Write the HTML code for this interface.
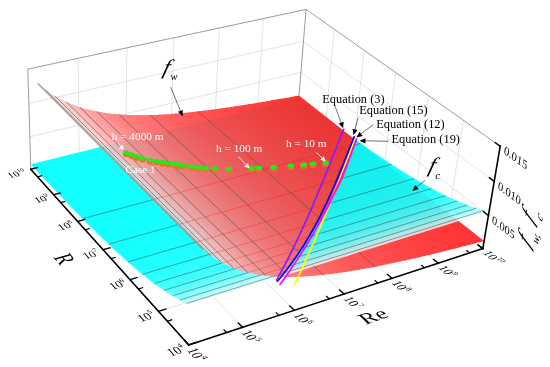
<!DOCTYPE html>
<html><head><meta charset="utf-8"><style>html,body{margin:0;padding:0;background:#fff;overflow:hidden}svg{display:block}</style></head>
<body><svg width="550" height="367" viewBox="0 0 550 367">
<rect width="550" height="367" fill="#fff"/>
<polyline points="79.1,157.2 78.2,58.3" stroke="#dcdcdc" stroke-width="0.8" fill="none"/>
<polyline points="448,221.1 463.4,120.3" stroke="#dcdcdc" stroke-width="0.8" fill="none"/>
<polyline points="125.8,145.6 126.9,47.8" stroke="#dcdcdc" stroke-width="0.8" fill="none"/>
<polyline points="415,194.9 428.6,95.7" stroke="#dcdcdc" stroke-width="0.8" fill="none"/>
<polyline points="171,134.3 173.9,37.7" stroke="#dcdcdc" stroke-width="0.8" fill="none"/>
<polyline points="383.7,170.1 395.5,72.5" stroke="#dcdcdc" stroke-width="0.8" fill="none"/>
<polyline points="214.8,123.4 219.4,28" stroke="#dcdcdc" stroke-width="0.8" fill="none"/>
<polyline points="353.8,146.5 364.2,50.4" stroke="#dcdcdc" stroke-width="0.8" fill="none"/>
<polyline points="257.3,112.8 263.5,18.6" stroke="#dcdcdc" stroke-width="0.8" fill="none"/>
<polyline points="325.4,124 334.4,29.4" stroke="#dcdcdc" stroke-width="0.8" fill="none"/>
<polyline points="29.8,136.8 300.9,72.3" stroke="#dcdcdc" stroke-width="0.8" fill="none"/>
<polyline points="488.4,215.5 300.9,72.3" stroke="#dcdcdc" stroke-width="0.8" fill="none"/>
<polyline points="28.9,103.4 303.4,41.3" stroke="#dcdcdc" stroke-width="0.8" fill="none"/>
<polyline points="494.2,181.4 303.4,41.3" stroke="#dcdcdc" stroke-width="0.8" fill="none"/>
<polyline points="242.5,327.3 79.1,157.2" stroke="#dcdcdc" stroke-width="0.8" fill="none"/>
<polyline points="158.5,311.3 448,221.1" stroke="#dcdcdc" stroke-width="0.8" fill="none"/>
<polyline points="294.3,310.3 125.8,145.6" stroke="#dcdcdc" stroke-width="0.8" fill="none"/>
<polyline points="130,279.6 415,194.9" stroke="#dcdcdc" stroke-width="0.8" fill="none"/>
<polyline points="344.1,294 171,134.3" stroke="#dcdcdc" stroke-width="0.8" fill="none"/>
<polyline points="103.2,249.7 383.7,170.1" stroke="#dcdcdc" stroke-width="0.8" fill="none"/>
<polyline points="392,278.3 214.8,123.4" stroke="#dcdcdc" stroke-width="0.8" fill="none"/>
<polyline points="77.7,221.5 353.8,146.5" stroke="#dcdcdc" stroke-width="0.8" fill="none"/>
<polyline points="438.3,263.2 257.3,112.8" stroke="#dcdcdc" stroke-width="0.8" fill="none"/>
<polyline points="53.7,194.7 325.4,124" stroke="#dcdcdc" stroke-width="0.8" fill="none"/>
<polyline points="30.8,169.3 27.8,69.1" stroke="#969696" stroke-width="0.95" fill="none"/>
<polyline points="27.8,69.1 306.1,9.4" stroke="#969696" stroke-width="0.95" fill="none"/>
<polyline points="306.1,9.4 500.2,146.2" stroke="#969696" stroke-width="0.95" fill="none"/>
<polyline points="298.4,102.6 306.1,9.4" stroke="#969696" stroke-width="0.95" fill="none"/>
<defs>
<clipPath id="cf"><path d="M280.9,276.8 L280.9,276.8 L288.7,274.3 L296.4,271.9 L304.1,269.5 L311.7,267.1 L319.3,264.7 L326.9,262.4 L334.4,260 L341.8,257.7 L349.2,255.4 L356.6,253.1 L363.9,250.8 L371.2,248.5 L378.5,246.2 L385.7,244 L392.9,241.7 L400,239.5 L407.1,237.3 L414.1,235.1 L421.1,232.9 L428.1,230.7 L435,228.5 L441.9,226.4 L448.8,224.2 L455.6,222.1 L462.4,220 L469.1,217.9 L475.8,215.8 L482.5,213.7 L489.1,211.6 L353.8,138.6 L353.8,138.6 L353.6,140.6 L353.3,142.7 L353,144.7 L352.7,146.8 L352.3,148.9 L351.8,151 L351.4,153.1 L350.8,155.3 L350.3,157.5 L349.6,159.7 L349,161.9 L348.3,164.1 L347.5,166.3 L346.7,168.6 L345.9,170.8 L345,173.1 L344.1,175.4 L343.1,177.8 L342,180.1 L341,182.5 L339.9,184.8 L338.7,187.2 L337.5,189.6 L336.3,192.1 L335,194.5 L333.7,196.9 L332.3,199.4 L330.9,201.9 L329.5,204.3 L328,206.8 L326.6,209.3 L325,211.8 L323.5,214.3 L321.9,216.9 L320.3,219.4 L318.7,221.9 L317.1,224.4 L315.4,227 L313.7,229.5 L312.1,232 L310.4,234.5 L308.7,237 L307,239.5 L305.3,242 L303.6,244.5 L301.9,247 L300.2,249.4 L298.5,251.8 L296.8,254.3 L295.2,256.7 L293.5,259 L291.9,261.4 L290.3,263.7 L288.7,265.9 L287.1,268.2 L285.5,270.4 L284,272.6 L282.4,274.7 L280.9,276.8 Z"/></clipPath>
<clipPath id="rp"><path d="M201.6,248.3 L207,252.8 L212.3,256.6 L217.5,260 L222.8,263 L228,265.5 L233.2,267.8 L238.4,269.6 L243.6,271.3 L248.8,272.6 L253.9,273.7 L259,274.7 L264.1,275.4 L269.2,276 L274.2,276.4 L279.3,276.7 L284.3,276.8 L289.3,276.9 L294.3,276.8 L299.3,276.7 L304.2,276.5 L309.2,276.1 L314.1,275.8 L319,275.3 L323.9,274.8 L328.7,274.2 L333.6,273.6 L338.4,273 L343.2,272.3 L348,271.5 L352.8,270.8 L357.5,270 L362.3,269.1 L367,268.3 L371.7,267.4 L376.4,266.5 L381.1,265.5 L385.7,264.6 L390.4,263.6 L395,262.6 L399.6,261.6 L404.2,260.6 L408.8,259.6 L413.3,258.5 L417.9,257.5 L422.4,256.4 L426.9,255.4 L431.4,254.3 L435.9,253.2 L440.4,252.1 L444.8,251 L449.2,249.9 L453.7,248.8 L458.1,247.7 L462.4,246.6 L466.8,245.4 L471.2,244.3 L475.5,243.2 L479.8,242 L484.1,240.9 L299,95.5 L299,95.5 L294.9,96.3 L290.9,97 L286.9,97.8 L282.9,98.5 L278.8,99.2 L274.7,99.9 L270.7,100.6 L266.6,101.3 L262.5,102 L258.3,102.7 L254.2,103.4 L250.1,104.1 L245.9,104.8 L241.7,105.4 L237.5,106.1 L233.3,106.7 L229.1,107.3 L224.9,107.9 L220.6,108.5 L216.4,109.1 L212.1,109.7 L207.8,110.2 L203.5,110.8 L199.2,111.3 L194.9,111.8 L190.5,112.3 L186.2,112.7 L181.8,113.1 L177.4,113.5 L173,113.9 L168.6,114.2 L164.2,114.5 L159.7,114.7 L155.2,114.9 L150.7,115.1 L146.2,115.2 L141.7,115.3 L137.2,115.2 L132.6,115.2 L128,115 L123.4,114.8 L118.8,114.5 L114.2,114.1 L109.5,113.6 L104.9,112.9 L100.2,112.2 L95.4,111.3 L90.7,110.2 L85.9,109 L81.1,107.6 L76.3,106 L71.4,104.1 L66.5,102 L61.6,99.7 L56.7,97 L51.7,93.9 L46.6,90.4 L41.5,86.5 L36.4,82.1 Z"/></clipPath>
<clipPath id="ncf"><path clip-rule="evenodd" d="M-10,-10 L600,-10 L600,400 L-10,400 Z M280.9,276.8 L280.9,276.8 L288.7,274.3 L296.4,271.9 L304.1,269.5 L311.7,267.1 L319.3,264.7 L326.9,262.4 L334.4,260 L341.8,257.7 L349.2,255.4 L356.6,253.1 L363.9,250.8 L371.2,248.5 L378.5,246.2 L385.7,244 L392.9,241.7 L400,239.5 L407.1,237.3 L414.1,235.1 L421.1,232.9 L428.1,230.7 L435,228.5 L441.9,226.4 L448.8,224.2 L455.6,222.1 L462.4,220 L469.1,217.9 L475.8,215.8 L482.5,213.7 L489.1,211.6 L353.8,138.6 L353.8,138.6 L353.6,140.6 L353.3,142.7 L353,144.7 L352.7,146.8 L352.3,148.9 L351.8,151 L351.4,153.1 L350.8,155.3 L350.3,157.5 L349.6,159.7 L349,161.9 L348.3,164.1 L347.5,166.3 L346.7,168.6 L345.9,170.8 L345,173.1 L344.1,175.4 L343.1,177.8 L342,180.1 L341,182.5 L339.9,184.8 L338.7,187.2 L337.5,189.6 L336.3,192.1 L335,194.5 L333.7,196.9 L332.3,199.4 L330.9,201.9 L329.5,204.3 L328,206.8 L326.6,209.3 L325,211.8 L323.5,214.3 L321.9,216.9 L320.3,219.4 L318.7,221.9 L317.1,224.4 L315.4,227 L313.7,229.5 L312.1,232 L310.4,234.5 L308.7,237 L307,239.5 L305.3,242 L303.6,244.5 L301.9,247 L300.2,249.4 L298.5,251.8 L296.8,254.3 L295.2,256.7 L293.5,259 L291.9,261.4 L290.3,263.7 L288.7,265.9 L287.1,268.2 L285.5,270.4 L284,272.6 L282.4,274.7 L280.9,276.8 Z"/></clipPath>
</defs>
<g clip-path="url(#cf)"><g opacity="0.92"><polygon points="201.6,248.3 202.2,248.8 37,82.6 36.4,82.1" fill="#b3abab"/>
<polygon points="201.9,248.6 202.9,249.4 37.6,83.2 36.7,82.4" fill="#b5adad"/>
<polygon points="202.5,249.1 203.8,250.2 38.5,84 37.2,82.9" fill="#b8b1b1"/>
<polygon points="203.3,249.8 204.9,251.1 39.5,84.9 38,83.6" fill="#bdb5b5"/>
<polygon points="204.3,250.6 206.1,252.1 40.7,85.8 39,84.4" fill="#c1baba"/>
<polygon points="205.4,251.5 207.4,253.1 42,86.9 40.1,85.3" fill="#c7bebe"/>
<polygon points="206.7,252.6 208.9,254.2 43.4,88 41.3,86.3" fill="#cdc3c3"/>
<polygon points="208.1,253.7 210.5,255.4 44.9,89.2 42.7,87.4" fill="#d3c7c7"/>
<polygon points="209.7,254.8 212.2,256.6 46.6,90.4 44.1,88.6" fill="#d9caca"/>
<polygon points="211.3,256 214.1,257.9 48.3,91.7 45.7,89.8" fill="#e0cdcd"/>
<polygon points="213.1,257.2 216,259.1 50.2,92.9 47.4,91" fill="#e6cfcf"/>
<polygon points="215,258.5 218,260.3 52.1,94.2 49.2,92.3" fill="#ecd1d1"/>
<polygon points="217,259.7 220.2,261.6 54.1,95.5 51.1,93.5" fill="#f2d1d1"/>
<polygon points="219.1,260.9 222.4,262.8 56.3,96.7 53.1,94.8" fill="#f8d0d0"/>
<polygon points="221.2,262.2 224.7,264 58.4,98 55.2,96.1" fill="#fdcfcf"/>
<polygon points="223.5,263.4 227.1,265.1 60.7,99.2 57.3,97.3" fill="#ffcbcb"/>
<polygon points="225.9,264.5 229.6,266.2 63.1,100.4 59.6,98.6" fill="#ffc7c7"/>
<polygon points="228.3,265.7 232.1,267.3 65.5,101.6 61.9,99.8" fill="#ffc2c2"/>
<polygon points="230.8,266.8 234.8,268.3 68,102.7 64.3,101" fill="#ffbebe"/>
<polygon points="233.4,267.8 237.5,269.3 70.5,103.8 66.7,102.1" fill="#ffb9b9"/>
<polygon points="236.1,268.8 240.3,270.3 73.2,104.8 69.2,103.2" fill="#ffb4b4"/>
<polygon points="238.9,269.8 243.2,271.1 75.9,105.8 71.8,104.3" fill="#ffb0b0"/>
<polygon points="241.7,270.7 246.1,271.9 78.6,106.8 74.5,105.3" fill="#ffacac"/>
<polygon points="244.6,271.5 249.1,272.7 81.4,107.7 77.2,106.3" fill="#ffa7a7"/>
<polygon points="247.6,272.3 252.2,273.4 84.3,108.6 80,107.3" fill="#ffa3a3"/>
<polygon points="250.6,273 255.3,274 87.3,109.4 82.9,108.1" fill="#ff9f9f"/>
<polygon points="253.7,273.7 258.5,274.6 90.2,110.1 85.8,109" fill="#ff9b9b"/>
<polygon points="256.9,274.3 261.8,275.1 93.3,110.8 88.7,109.7" fill="#ff9797"/>
<polygon points="260.1,274.9 265.1,275.5 96.4,111.5 91.8,110.5" fill="#ff9393"/>
<polygon points="263.4,275.3 268.5,275.9 99.6,112.1 94.8,111.1" fill="#ff8f8f"/>
<polygon points="266.8,275.7 272,276.2 102.8,112.6 98,111.8" fill="#ff8b8b"/>
<polygon points="270.2,276.1 275.5,276.5 106,113.1 101.1,112.3" fill="#ff8787"/>
<polygon points="273.7,276.4 279.1,276.7 109.3,113.5 104.4,112.9" fill="#ff8484"/>
<polygon points="277.3,276.6 282.7,276.8 112.7,113.9 107.7,113.3" fill="#ff8080"/>
<polygon points="280.8,276.8 286.4,276.9 116.1,114.3 111,113.7" fill="#ff7d7d"/>
<polygon points="284.5,276.9 290.1,276.9 119.5,114.5 114.4,114.1" fill="#ff7979"/>
<polygon points="288.2,276.9 293.9,276.8 123,114.8 117.8,114.4" fill="#ff7676"/>
<polygon points="292,276.9 297.7,276.7 126.6,115 121.3,114.7" fill="#ff7373"/>
<polygon points="295.8,276.8 301.6,276.6 130.2,115.1 124.8,114.9" fill="#ff7070"/>
<polygon points="299.6,276.7 305.5,276.4 133.8,115.2 128.4,115" fill="#ff6d6d"/>
<polygon points="303.5,276.5 309.5,276.1 137.5,115.3 132,115.2" fill="#ff6a6a"/>
<polygon points="307.5,276.3 313.5,275.8 141.2,115.3 135.6,115.2" fill="#ff6767"/>
<polygon points="311.5,276 317.6,275.4 144.9,115.2 139.3,115.3" fill="#ff6464"/>
<polygon points="315.5,275.6 321.7,275 148.7,115.2 143,115.3" fill="#ff6262"/>
<polygon points="319.6,275.2 325.8,274.6 152.6,115 146.8,115.2" fill="#ff5f5f"/>
<polygon points="323.7,274.8 330,274.1 156.4,114.9 150.6,115.1" fill="#ff5c5c"/>
<polygon points="327.9,274.3 334.3,273.5 160.3,114.7 154.5,115" fill="#ff5a5a"/>
<polygon points="332.1,273.8 338.5,272.9 164.3,114.5 158.4,114.8" fill="#ff5757"/>
<polygon points="336.4,273.2 342.9,272.3 168.3,114.2 162.3,114.6" fill="#ff5555"/>
<polygon points="340.7,272.6 347.2,271.7 172.3,113.9 166.3,114.4" fill="#ff5353"/>
<polygon points="345,272 351.6,271 176.3,113.6 170.3,114.1" fill="#ff5151"/>
<polygon points="349.4,271.3 356,270.2 180.4,113.2 174.3,113.8" fill="#ff4f4f"/>
<polygon points="353.8,270.6 360.5,269.4 184.5,112.9 178.4,113.4" fill="#ff4c4c"/>
<polygon points="358.3,269.8 365,268.6 188.7,112.5 182.5,113.1" fill="#ff4a4a"/>
<polygon points="362.7,269 369.5,267.8 192.9,112 186.6,112.7" fill="#ff4848"/>
<polygon points="367.3,268.2 374.1,266.9 197.1,111.5 190.8,112.2" fill="#ff4747"/>
<polygon points="371.8,267.4 378.7,266 201.3,111 195,111.8" fill="#ff4545"/>
<polygon points="376.4,266.5 383.3,265.1 205.6,110.5 199.2,111.3" fill="#ff4343"/>
<polygon points="381,265.5 388,264.1 209.9,110 203.5,110.8" fill="#ff4141"/>
<polygon points="385.7,264.6 392.7,263.1 214.3,109.4 207.8,110.3" fill="#ff3f3f"/>
<polygon points="390.3,263.6 397.4,262.1 218.6,108.8 212.1,109.7" fill="#ff3e3e"/>
<polygon points="395.1,262.6 402.2,261.1 223,108.2 216.4,109.1" fill="#ff3c3c"/>
<polygon points="399.8,261.6 407,260 227.4,107.6 220.8,108.5" fill="#ff3a3a"/>
<polygon points="404.6,260.5 411.8,258.9 231.9,106.9 225.2,107.9" fill="#ff3939"/>
<polygon points="409.4,259.5 416.6,257.8 236.3,106.2 229.6,107.3" fill="#ff3737"/>
<polygon points="414.2,258.4 421.5,256.7 240.8,105.6 234.1,106.6" fill="#ff3535"/>
<polygon points="419,257.2 426.4,255.5 245.4,104.8 238.6,105.9" fill="#ff3434"/>
<polygon points="423.9,256.1 431.3,254.3 249.9,104.1 243.1,105.2" fill="#ff3232"/>
<polygon points="428.8,254.9 436.2,253.1 254.5,103.4 247.6,104.5" fill="#ff3131"/>
<polygon points="433.7,253.7 441.2,251.9 259.1,102.6 252.2,103.8" fill="#ff3030"/>
<polygon points="438.7,252.5 446.1,250.7 263.7,101.8 256.8,103" fill="#ff2e2e"/>
<polygon points="443.6,251.3 451.1,249.4 268.3,101 261.4,102.2" fill="#ff2d2d"/>
<polygon points="448.6,250.1 456.2,248.2 273,100.2 266,101.4" fill="#ff2b2b"/>
<polygon points="453.6,248.8 461.2,246.9 277.7,99.4 270.6,100.6" fill="#ff2a2a"/>
<polygon points="458.7,247.5 466.3,245.6 282.4,98.6 275.3,99.8" fill="#ff2929"/>
<polygon points="463.7,246.2 471.3,244.2 287.1,97.7 280,99" fill="#ff2727"/>
<polygon points="468.8,244.9 476.4,242.9 291.8,96.9 284.7,98.2" fill="#ff2626"/>
<polygon points="473.9,243.6 481.6,241.6 296.6,96 289.4,97.3" fill="#ff2424"/>
<polygon points="479,242.2 484.1,240.9 299,95.5 294.2,96.4" fill="#ff2323"/></g><polyline points="375.1,266.7 198,111.4" stroke="#634d4d" stroke-width="0.8" fill="none" opacity="0.8"/>
<polyline points="323.4,274.9 150.3,115.1" stroke="#634d4d" stroke-width="0.8" fill="none" opacity="0.8"/>
<polyline points="289.7,276.9 119.2,114.5" stroke="#634d4d" stroke-width="0.8" fill="none" opacity="0.8"/>
<polyline points="265.8,275.6 97,111.6" stroke="#634d4d" stroke-width="0.8" fill="none" opacity="0.8"/>
<polyline points="247.6,272.3 80,107.3" stroke="#634d4d" stroke-width="0.8" fill="none" opacity="0.8"/>
<polyline points="233.2,267.7 66.5,102" stroke="#634d4d" stroke-width="0.8" fill="none" opacity="0.8"/>
<polyline points="221.3,262.2 55.2,96.1" stroke="#634d4d" stroke-width="0.8" fill="none" opacity="0.8"/>
<polyline points="211.2,255.9 45.6,89.7" stroke="#634d4d" stroke-width="0.8" fill="none" opacity="0.55"/>
<polyline points="202.9,249.4 37.6,83.2" stroke="#a39a9a" stroke-width="1.5" fill="none" opacity="0.9"/></g>
<g opacity="0.92"><polygon points="190.3,305.1 489.1,211.6 488.6,211.5 189.9,304.9" fill="#f9fcfc"/>
<polygon points="190.1,305 488.8,211.5 488,211.3 189.4,304.7" fill="#f5fcfc"/>
<polygon points="189.7,304.8 488.3,211.4 487.2,211.2 188.8,304.5" fill="#effcfc"/>
<polygon points="189.1,304.6 487.6,211.2 486.4,210.9 188.1,304.1" fill="#e8fcfc"/>
<polygon points="188.5,304.3 486.8,211.1 485.5,210.7 187.3,303.8" fill="#e0fcfc"/>
<polygon points="187.7,304 486,210.8 484.4,210.4 186.5,303.4" fill="#d7fcfc"/>
<polygon points="186.9,303.6 485,210.6 483.3,210.2 185.6,303" fill="#cefdfd"/>
<polygon points="186,303.2 483.9,210.3 482.1,209.8 184.6,302.5" fill="#c5fdfd"/>
<polygon points="185.1,302.7 482.8,210 480.9,209.5 183.6,302" fill="#bcfdfd"/>
<polygon points="184.1,302.3 481.5,209.7 479.6,209.1 182.5,301.4" fill="#b2fdfd"/>
<polygon points="183,301.7 480.3,209.3 478.2,208.7 181.4,300.9" fill="#a9fdfd"/>
<polygon points="181.9,301.2 478.9,208.9 476.8,208.2 180.2,300.2" fill="#9ffdfd"/>
<polygon points="180.8,300.6 477.5,208.5 475.3,207.8 179,299.6" fill="#96fdfd"/>
<polygon points="179.6,299.9 476.1,208 473.8,207.3 177.7,298.9" fill="#8dfdfd"/>
<polygon points="178.3,299.2 474.6,207.5 472.2,206.7 176.4,298.1" fill="#84fdfd"/>
<polygon points="177.1,298.5 473,207 470.6,206.2 175.1,297.4" fill="#7cfefe"/>
<polygon points="175.7,297.8 471.4,206.5 468.9,205.6 173.7,296.6" fill="#74fefe"/>
<polygon points="174.4,297 469.8,205.9 467.2,205 172.3,295.7" fill="#6cfefe"/>
<polygon points="173,296.1 468.1,205.3 465.5,204.3 170.8,294.8" fill="#64fefe"/>
<polygon points="171.6,295.3 466.4,204.6 463.7,203.6 169.4,293.9" fill="#5dfefe"/>
<polygon points="170.1,294.4 464.6,204 461.9,202.9 167.9,292.9" fill="#56fefe"/>
<polygon points="168.6,293.4 462.8,203.3 460.1,202.2 166.3,291.9" fill="#4ffefe"/>
<polygon points="167.1,292.4 461,202.5 458.2,201.4 164.8,290.9" fill="#49fefe"/>
<polygon points="165.5,291.4 459.1,201.8 456.3,200.6 163.2,289.8" fill="#44fefe"/>
<polygon points="164,290.3 457.2,201 454.3,199.7 161.5,288.7" fill="#3efefe"/>
<polygon points="162.4,289.3 455.3,200.1 452.4,198.8 159.9,287.5" fill="#39fefe"/>
<polygon points="160.7,288.1 453.4,199.3 450.4,197.9 158.2,286.3" fill="#34fefe"/>
<polygon points="159.1,286.9 451.4,198.4 448.4,197 156.5,285.1" fill="#30fefe"/>
<polygon points="157.4,285.7 449.4,197.5 446.3,196 154.8,283.9" fill="#2cfefe"/>
<polygon points="155.7,284.5 447.3,196.5 444.2,195 153.1,282.6" fill="#28ffff"/>
<polygon points="154,283.2 445.3,195.5 442.1,194 151.3,281.2" fill="#24ffff"/>
<polygon points="152.2,281.9 443.2,194.5 440,192.9 149.6,279.9" fill="#21ffff"/>
<polygon points="150.5,280.6 441.1,193.4 437.9,191.8 147.8,278.5" fill="#1effff"/>
<polygon points="148.7,279.2 439,192.4 435.7,190.7 146,277" fill="#1bffff"/>
<polygon points="146.9,277.8 436.8,191.2 433.5,189.5 144.1,275.6" fill="#18ffff"/>
<polygon points="145,276.3 434.6,190.1 431.3,188.3 142.3,274.1" fill="#16ffff"/>
<polygon points="143.2,274.8 432.4,188.9 429.1,187.1 140.4,272.5" fill="#14ffff"/>
<polygon points="141.3,273.3 430.2,187.7 426.8,185.9 138.5,271" fill="#12ffff"/>
<polygon points="139.5,271.7 428,186.5 424.6,184.6 136.6,269.4" fill="#10ffff"/>
<polygon points="137.6,270.2 425.7,185.3 422.3,183.3 134.7,267.7" fill="#0effff"/>
<polygon points="135.7,268.6 423.4,184 420,182 132.8,266.1" fill="#0dffff"/>
<polygon points="133.7,266.9 421.2,182.7 417.7,180.7 130.8,264.4" fill="#0cffff"/>
<polygon points="131.8,265.2 418.8,181.3 415.4,179.3 128.9,262.7" fill="#0affff"/>
<polygon points="129.8,263.5 416.5,180 413,177.9 126.9,260.9" fill="#09ffff"/>
<polygon points="127.9,261.8 414.2,178.6 410.6,176.5 124.9,259.2" fill="#08ffff"/>
<polygon points="125.9,260.1 411.8,177.2 408.3,175 122.9,257.4" fill="#07ffff"/>
<polygon points="123.9,258.3 409.5,175.7 405.9,173.5 120.9,255.5" fill="#06ffff"/>
<polygon points="121.9,256.5 407.1,174.3 403.5,172.1 118.9,253.7" fill="#06ffff"/>
<polygon points="119.9,254.6 404.7,172.8 401.1,170.5 116.8,251.8" fill="#05ffff"/>
<polygon points="117.8,252.8 402.3,171.3 398.6,169 114.8,249.9" fill="#04ffff"/>
<polygon points="115.8,250.9 399.8,169.8 396.2,167.4 112.7,248" fill="#04ffff"/>
<polygon points="113.7,249 397.4,168.2 393.7,165.9 110.6,246.1" fill="#03ffff"/>
<polygon points="111.7,247 395,166.6 391.3,164.2 108.6,244.1" fill="#03ffff"/>
<polygon points="109.6,245.1 392.5,165.1 388.8,162.6 106.5,242.1" fill="#03ffff"/>
<polygon points="107.5,243.1 390,163.4 386.3,161 104.4,240.1" fill="#02ffff"/>
<polygon points="105.4,241.1 387.5,161.8 383.8,159.3 102.3,238.1" fill="#02ffff"/>
<polygon points="103.3,239.1 385.1,160.2 381.3,157.6 100.2,236" fill="#02ffff"/>
<polygon points="101.2,237 382.6,158.5 378.8,155.9 98,233.9" fill="#01ffff"/>
<polygon points="99.1,235 380,156.8 376.2,154.2 95.9,231.8" fill="#01ffff"/>
<polygon points="97,232.9 377.5,155.1 373.7,152.5 93.8,229.7" fill="#01ffff"/>
<polygon points="94.8,230.8 375,153.4 371.2,150.8 91.6,227.6" fill="#01ffff"/>
<polygon points="92.7,228.7 372.4,151.6 368.6,149 89.5,225.5" fill="#01ffff"/>
<polygon points="90.5,226.6 369.9,149.9 366,147.2 87.3,223.3" fill="#01ffff"/>
<polygon points="88.4,224.4 367.3,148.1 363.5,145.4 85.1,221.1" fill="#01ffff"/>
<polygon points="86.2,222.2 364.8,146.3 360.9,143.6 83,219" fill="#00ffff"/>
<polygon points="84,220.1 362.2,144.5 358.3,141.8 80.8,216.7" fill="#00ffff"/>
<polygon points="81.9,217.9 359.6,142.7 355.7,139.9 78.6,214.5" fill="#00ffff"/>
<polygon points="79.7,215.6 357,140.9 353.1,138.1 76.4,212.3" fill="#00ffff"/>
<polygon points="77.5,213.4 354.4,139 350.5,136.2 74.2,210.1" fill="#00ffff"/>
<polygon points="75.3,211.2 351.8,137.2 347.9,134.4 72,207.8" fill="#00ffff"/>
<polygon points="73.1,208.9 349.2,135.3 345.3,132.5 69.8,205.5" fill="#00ffff"/>
<polygon points="70.9,206.7 346.6,133.4 342.7,130.6 67.6,203.2" fill="#00ffff"/>
<polygon points="68.7,204.4 344,131.5 340,128.7 65.4,200.9" fill="#00ffff"/>
<polygon points="66.5,202.1 341.4,129.6 337.4,126.7 63.1,198.6" fill="#00ffff"/>
<polygon points="64.3,199.8 338.7,127.7 334.8,124.8 60.9,196.3" fill="#00ffff"/>
<polygon points="62,197.5 336.1,125.8 332.1,122.9 58.7,194" fill="#00ffff"/>
<polygon points="59.8,195.2 333.4,123.8 329.5,120.9 56.5,191.7" fill="#00ffff"/>
<polygon points="57.6,192.8 330.8,121.9 326.8,119 54.2,189.3" fill="#00ffff"/>
<polygon points="55.4,190.5 328.1,119.9 324.2,117 52,187" fill="#00ffff"/>
<polygon points="53.1,188.1 325.5,118 321.5,115 49.8,184.6" fill="#00ffff"/>
<polygon points="50.9,185.8 322.8,116 318.8,113 47.5,182.2" fill="#00ffff"/>
<polygon points="48.6,183.4 320.2,114 316.2,111 45.3,179.8" fill="#00ffff"/>
<polygon points="46.4,181 317.5,112 313.5,109 43,177.5" fill="#00ffff"/>
<polygon points="44.2,178.7 314.8,110 310.8,107 40.8,175.1" fill="#00ffff"/>
<polygon points="41.9,176.3 312.2,108 308.1,105 38.5,172.7" fill="#00ffff"/>
<polygon points="39.7,173.9 309.5,106 305.5,103 36.3,170.3" fill="#00ffff"/>
<polygon points="37.4,171.5 306.8,104 302.8,101 34,167.9" fill="#00ffff"/>
<polygon points="35.2,169.1 304.1,102 300.1,98.9 31.8,165.4" fill="#00ffff"/>
<polygon points="32.9,166.6 301.4,100 298.8,97.9 30.7,164.2" fill="#00ffff"/></g>
<polyline points="82.7,218.7 360.6,143.4" stroke="#2a4a4a" stroke-width="0.7" fill="none" opacity="0.7"/>
<polyline points="108.7,244.2 391.4,164.3" stroke="#2a4a4a" stroke-width="0.7" fill="none" opacity="0.7"/>
<polyline points="127.9,261.9 414.3,178.6" stroke="#2a4a4a" stroke-width="0.7" fill="none" opacity="0.7"/>
<polyline points="142.5,274.2 431.6,188.5" stroke="#2a4a4a" stroke-width="0.7" fill="none" opacity="0.7"/>
<polyline points="154.2,283.4 445.5,195.6" stroke="#2a4a4a" stroke-width="0.7" fill="none" opacity="0.7"/>
<polyline points="164,290.3 457.2,201" stroke="#2a4a4a" stroke-width="0.7" fill="none" opacity="0.7"/>
<polyline points="172.4,295.8 467.4,205" stroke="#2a4a4a" stroke-width="0.7" fill="none" opacity="0.7"/>
<polyline points="179.8,300 476.4,208.1" stroke="#2a4a4a" stroke-width="0.7" fill="none" opacity="0.7"/>
<polyline points="186.5,303.4 484.4,210.4" stroke="#2a4a4a" stroke-width="0.7" fill="none" opacity="0.7"/>
<g clip-path="url(#ncf)"><g opacity="0.92"><polygon points="201.6,248.3 202.2,248.8 37,82.6 36.4,82.1" fill="#b3abab"/>
<polygon points="201.9,248.6 202.9,249.4 37.6,83.2 36.7,82.4" fill="#b5adad"/>
<polygon points="202.5,249.1 203.8,250.2 38.5,84 37.2,82.9" fill="#b8b1b1"/>
<polygon points="203.3,249.8 204.9,251.1 39.5,84.9 38,83.6" fill="#bdb5b5"/>
<polygon points="204.3,250.6 206.1,252.1 40.7,85.8 39,84.4" fill="#c1baba"/>
<polygon points="205.4,251.5 207.4,253.1 42,86.9 40.1,85.3" fill="#c7bebe"/>
<polygon points="206.7,252.6 208.9,254.2 43.4,88 41.3,86.3" fill="#cdc3c3"/>
<polygon points="208.1,253.7 210.5,255.4 44.9,89.2 42.7,87.4" fill="#d3c7c7"/>
<polygon points="209.7,254.8 212.2,256.6 46.6,90.4 44.1,88.6" fill="#d9caca"/>
<polygon points="211.3,256 214.1,257.9 48.3,91.7 45.7,89.8" fill="#e0cdcd"/>
<polygon points="213.1,257.2 216,259.1 50.2,92.9 47.4,91" fill="#e6cfcf"/>
<polygon points="215,258.5 218,260.3 52.1,94.2 49.2,92.3" fill="#ecd1d1"/>
<polygon points="217,259.7 220.2,261.6 54.1,95.5 51.1,93.5" fill="#f2d1d1"/>
<polygon points="219.1,260.9 222.4,262.8 56.3,96.7 53.1,94.8" fill="#f8d0d0"/>
<polygon points="221.2,262.2 224.7,264 58.4,98 55.2,96.1" fill="#fdcfcf"/>
<polygon points="223.5,263.4 227.1,265.1 60.7,99.2 57.3,97.3" fill="#ffcbcb"/>
<polygon points="225.9,264.5 229.6,266.2 63.1,100.4 59.6,98.6" fill="#ffc7c7"/>
<polygon points="228.3,265.7 232.1,267.3 65.5,101.6 61.9,99.8" fill="#ffc2c2"/>
<polygon points="230.8,266.8 234.8,268.3 68,102.7 64.3,101" fill="#ffbebe"/>
<polygon points="233.4,267.8 237.5,269.3 70.5,103.8 66.7,102.1" fill="#ffb9b9"/>
<polygon points="236.1,268.8 240.3,270.3 73.2,104.8 69.2,103.2" fill="#ffb4b4"/>
<polygon points="238.9,269.8 243.2,271.1 75.9,105.8 71.8,104.3" fill="#ffb0b0"/>
<polygon points="241.7,270.7 246.1,271.9 78.6,106.8 74.5,105.3" fill="#ffacac"/>
<polygon points="244.6,271.5 249.1,272.7 81.4,107.7 77.2,106.3" fill="#ffa7a7"/>
<polygon points="247.6,272.3 252.2,273.4 84.3,108.6 80,107.3" fill="#ffa3a3"/>
<polygon points="250.6,273 255.3,274 87.3,109.4 82.9,108.1" fill="#ff9f9f"/>
<polygon points="253.7,273.7 258.5,274.6 90.2,110.1 85.8,109" fill="#ff9b9b"/>
<polygon points="256.9,274.3 261.8,275.1 93.3,110.8 88.7,109.7" fill="#ff9797"/>
<polygon points="260.1,274.9 265.1,275.5 96.4,111.5 91.8,110.5" fill="#ff9393"/>
<polygon points="263.4,275.3 268.5,275.9 99.6,112.1 94.8,111.1" fill="#ff8f8f"/>
<polygon points="266.8,275.7 272,276.2 102.8,112.6 98,111.8" fill="#ff8b8b"/>
<polygon points="270.2,276.1 275.5,276.5 106,113.1 101.1,112.3" fill="#ff8787"/>
<polygon points="273.7,276.4 279.1,276.7 109.3,113.5 104.4,112.9" fill="#ff8484"/>
<polygon points="277.3,276.6 282.7,276.8 112.7,113.9 107.7,113.3" fill="#ff8080"/>
<polygon points="280.8,276.8 286.4,276.9 116.1,114.3 111,113.7" fill="#ff7d7d"/>
<polygon points="284.5,276.9 290.1,276.9 119.5,114.5 114.4,114.1" fill="#ff7979"/>
<polygon points="288.2,276.9 293.9,276.8 123,114.8 117.8,114.4" fill="#ff7676"/>
<polygon points="292,276.9 297.7,276.7 126.6,115 121.3,114.7" fill="#ff7373"/>
<polygon points="295.8,276.8 301.6,276.6 130.2,115.1 124.8,114.9" fill="#ff7070"/>
<polygon points="299.6,276.7 305.5,276.4 133.8,115.2 128.4,115" fill="#ff6d6d"/>
<polygon points="303.5,276.5 309.5,276.1 137.5,115.3 132,115.2" fill="#ff6a6a"/>
<polygon points="307.5,276.3 313.5,275.8 141.2,115.3 135.6,115.2" fill="#ff6767"/>
<polygon points="311.5,276 317.6,275.4 144.9,115.2 139.3,115.3" fill="#ff6464"/>
<polygon points="315.5,275.6 321.7,275 148.7,115.2 143,115.3" fill="#ff6262"/>
<polygon points="319.6,275.2 325.8,274.6 152.6,115 146.8,115.2" fill="#ff5f5f"/>
<polygon points="323.7,274.8 330,274.1 156.4,114.9 150.6,115.1" fill="#ff5c5c"/>
<polygon points="327.9,274.3 334.3,273.5 160.3,114.7 154.5,115" fill="#ff5a5a"/>
<polygon points="332.1,273.8 338.5,272.9 164.3,114.5 158.4,114.8" fill="#ff5757"/>
<polygon points="336.4,273.2 342.9,272.3 168.3,114.2 162.3,114.6" fill="#ff5555"/>
<polygon points="340.7,272.6 347.2,271.7 172.3,113.9 166.3,114.4" fill="#ff5353"/>
<polygon points="345,272 351.6,271 176.3,113.6 170.3,114.1" fill="#ff5151"/>
<polygon points="349.4,271.3 356,270.2 180.4,113.2 174.3,113.8" fill="#ff4f4f"/>
<polygon points="353.8,270.6 360.5,269.4 184.5,112.9 178.4,113.4" fill="#ff4c4c"/>
<polygon points="358.3,269.8 365,268.6 188.7,112.5 182.5,113.1" fill="#ff4a4a"/>
<polygon points="362.7,269 369.5,267.8 192.9,112 186.6,112.7" fill="#ff4848"/>
<polygon points="367.3,268.2 374.1,266.9 197.1,111.5 190.8,112.2" fill="#ff4747"/>
<polygon points="371.8,267.4 378.7,266 201.3,111 195,111.8" fill="#ff4545"/>
<polygon points="376.4,266.5 383.3,265.1 205.6,110.5 199.2,111.3" fill="#ff4343"/>
<polygon points="381,265.5 388,264.1 209.9,110 203.5,110.8" fill="#ff4141"/>
<polygon points="385.7,264.6 392.7,263.1 214.3,109.4 207.8,110.3" fill="#ff3f3f"/>
<polygon points="390.3,263.6 397.4,262.1 218.6,108.8 212.1,109.7" fill="#ff3e3e"/>
<polygon points="395.1,262.6 402.2,261.1 223,108.2 216.4,109.1" fill="#ff3c3c"/>
<polygon points="399.8,261.6 407,260 227.4,107.6 220.8,108.5" fill="#ff3a3a"/>
<polygon points="404.6,260.5 411.8,258.9 231.9,106.9 225.2,107.9" fill="#ff3939"/>
<polygon points="409.4,259.5 416.6,257.8 236.3,106.2 229.6,107.3" fill="#ff3737"/>
<polygon points="414.2,258.4 421.5,256.7 240.8,105.6 234.1,106.6" fill="#ff3535"/>
<polygon points="419,257.2 426.4,255.5 245.4,104.8 238.6,105.9" fill="#ff3434"/>
<polygon points="423.9,256.1 431.3,254.3 249.9,104.1 243.1,105.2" fill="#ff3232"/>
<polygon points="428.8,254.9 436.2,253.1 254.5,103.4 247.6,104.5" fill="#ff3131"/>
<polygon points="433.7,253.7 441.2,251.9 259.1,102.6 252.2,103.8" fill="#ff3030"/>
<polygon points="438.7,252.5 446.1,250.7 263.7,101.8 256.8,103" fill="#ff2e2e"/>
<polygon points="443.6,251.3 451.1,249.4 268.3,101 261.4,102.2" fill="#ff2d2d"/>
<polygon points="448.6,250.1 456.2,248.2 273,100.2 266,101.4" fill="#ff2b2b"/>
<polygon points="453.6,248.8 461.2,246.9 277.7,99.4 270.6,100.6" fill="#ff2a2a"/>
<polygon points="458.7,247.5 466.3,245.6 282.4,98.6 275.3,99.8" fill="#ff2929"/>
<polygon points="463.7,246.2 471.3,244.2 287.1,97.7 280,99" fill="#ff2727"/>
<polygon points="468.8,244.9 476.4,242.9 291.8,96.9 284.7,98.2" fill="#ff2626"/>
<polygon points="473.9,243.6 481.6,241.6 296.6,96 289.4,97.3" fill="#ff2424"/>
<polygon points="479,242.2 484.1,240.9 299,95.5 294.2,96.4" fill="#ff2323"/></g><g clip-path="url(#rp)"><polyline points="82.7,218.7 360.6,143.4" stroke="#ee2222" stroke-width="0.9" fill="none" opacity="0.33"/>
<polyline points="108.7,244.2 391.4,164.3" stroke="#ee2222" stroke-width="0.9" fill="none" opacity="0.33"/>
<polyline points="127.9,261.9 414.3,178.6" stroke="#ee2222" stroke-width="0.9" fill="none" opacity="0.33"/>
<polyline points="142.5,274.2 431.6,188.5" stroke="#ee2222" stroke-width="0.9" fill="none" opacity="0.33"/>
<polyline points="154.2,283.4 445.5,195.6" stroke="#ee2222" stroke-width="0.9" fill="none" opacity="0.33"/>
<polyline points="164,290.3 457.2,201" stroke="#ee2222" stroke-width="0.9" fill="none" opacity="0.33"/>
<polyline points="172.4,295.8 467.4,205" stroke="#ee2222" stroke-width="0.9" fill="none" opacity="0.33"/>
<polyline points="179.8,300 476.4,208.1" stroke="#ee2222" stroke-width="0.9" fill="none" opacity="0.33"/>
<polyline points="186.5,303.4 484.4,210.4" stroke="#ee2222" stroke-width="0.9" fill="none" opacity="0.33"/></g><polyline points="375.1,266.7 198,111.4" stroke="#634d4d" stroke-width="0.8" fill="none" opacity="0.8"/>
<polyline points="323.4,274.9 150.3,115.1" stroke="#634d4d" stroke-width="0.8" fill="none" opacity="0.8"/>
<polyline points="289.7,276.9 119.2,114.5" stroke="#634d4d" stroke-width="0.8" fill="none" opacity="0.8"/>
<polyline points="265.8,275.6 97,111.6" stroke="#634d4d" stroke-width="0.8" fill="none" opacity="0.8"/>
<polyline points="247.6,272.3 80,107.3" stroke="#634d4d" stroke-width="0.8" fill="none" opacity="0.8"/>
<polyline points="233.2,267.7 66.5,102" stroke="#634d4d" stroke-width="0.8" fill="none" opacity="0.8"/>
<polyline points="221.3,262.2 55.2,96.1" stroke="#634d4d" stroke-width="0.8" fill="none" opacity="0.8"/>
<polyline points="211.2,255.9 45.6,89.7" stroke="#634d4d" stroke-width="0.8" fill="none" opacity="0.55"/>
<polyline points="202.9,249.4 37.6,83.2" stroke="#a39a9a" stroke-width="1.5" fill="none" opacity="0.9"/></g>

<polyline points="343.7,129.3 341.9,133.6 340.2,137.9 338.5,142.2 336.8,146.5 335.1,150.8 333.4,155.2 331.6,159.5 329.9,163.8 328.2,168.1 326.5,172.4 324.7,176.7 323,181 321.2,185.3 319.4,189.6 317.6,193.9 315.8,198.2 314,202.5 312.2,206.9 310.3,211.2 308.4,215.5 306.5,219.8 304.6,224.1 302.6,228.4 300.6,232.7 298.6,237 296.6,241.3 294.5,245.6 292.4,249.9 290.3,254.2 288.1,258.6 285.9,262.9 283.6,267.2 281.3,271.5 278.9,275.8 276.6,280.1" fill="none" stroke="#8a1cff" stroke-width="1.7" stroke-linecap="round" stroke-linejoin="round"/><polyline points="355.2,138 353.6,142.2 352.1,146.4 350.5,150.5 349,154.7 347.4,158.9 345.8,163.1 344.2,167.3 342.6,171.4 341,175.6 339.4,179.8 337.7,184 336.1,188.2 334.4,192.3 332.8,196.5 331.1,200.7 329.4,204.9 327.7,209.1 326,213.2 324.3,217.4 322.5,221.6 320.8,225.8 319,230 317.2,234.1 315.5,238.3 313.6,242.5 311.8,246.7 310,250.9 308.1,255 306.3,259.2 304.4,263.4 302.5,267.6 300.6,271.8 298.7,275.9 296.7,280.1 294.7,284.3" fill="none" stroke="#ffff00" stroke-width="1.7" stroke-linecap="round" stroke-linejoin="round"/><polyline points="356.5,139.1 355,143.2 353.5,147.4 352,151.5 350.4,155.7 348.8,159.8 347.1,164 345.4,168.1 343.7,172.3 342,176.4 340.2,180.6 338.3,184.7 336.4,188.9 334.5,193 332.5,197.2 330.5,201.3 328.5,205.5 326.4,209.6 324.2,213.8 322,217.9 319.8,222.1 317.5,226.2 315.2,230.4 312.8,234.5 310.3,238.7 307.8,242.8 305.3,247 302.7,251.1 300.1,255.3 297.4,259.4 294.6,263.6 291.8,267.7 289,271.9 286.1,276 283.1,280.2 280.1,284.3" fill="none" stroke="#ff00ff" stroke-width="1.7" stroke-linecap="round" stroke-linejoin="round"/><polyline points="354.1,136.9 352.5,141 350.8,145.2 349.2,149.3 347.5,153.4 345.9,157.5 344.2,161.7 342.6,165.8 340.9,169.9 339.2,174 337.5,178.2 335.7,182.3 334,186.4 332.2,190.5 330.4,194.7 328.5,198.8 326.6,202.9 324.6,207 322.6,211.2 320.6,215.3 318.5,219.4 316.3,223.5 314.1,227.7 311.7,231.8 309.4,235.9 306.9,240 304.4,244.2 301.8,248.3 299.1,252.4 296.3,256.5 293.4,260.7 290.4,264.8 287.3,268.9 284.1,273 280.8,277.2 277.4,281.3" fill="none" stroke="#0000ff" stroke-width="1.7" stroke-linecap="round" stroke-linejoin="round"/>
<circle cx="126.2" cy="153.9" r="3.3" fill="#e8742a"/><circle cx="131.6" cy="155.7" r="3.3" fill="#e8742a"/><circle cx="136.7" cy="157.7" r="3.3" fill="#e8742a"/><circle cx="142.5" cy="159.5" r="3.3" fill="#e8742a"/><circle cx="149.8" cy="161.2" r="3.3" fill="#e8742a"/><circle cx="156.4" cy="162.3" r="3.3" fill="#e8742a"/><circle cx="163" cy="163.4" r="3.3" fill="#e8742a"/><circle cx="168.1" cy="164.2" r="3.3" fill="#e8742a"/><circle cx="174.6" cy="165" r="3.3" fill="#e8742a"/><circle cx="179.7" cy="165.8" r="3.3" fill="#e8742a"/><circle cx="183.4" cy="166.3" r="3.3" fill="#e8742a"/><circle cx="191.4" cy="167.6" r="3.3" fill="#e8742a"/><circle cx="198.2" cy="168.6" r="3.3" fill="#e8742a"/><circle cx="205.5" cy="169.1" r="3.3" fill="#e8742a"/><circle cx="214.9" cy="169.5" r="3.3" fill="#e8742a"/><circle cx="228.7" cy="170" r="3.3" fill="#e8742a"/><circle cx="251.5" cy="169.5" r="3.3" fill="#e8742a"/><circle cx="258.7" cy="169" r="3.3" fill="#e8742a"/><circle cx="273.7" cy="168.3" r="3.3" fill="#e8742a"/><circle cx="290.9" cy="166.8" r="3.3" fill="#e8742a"/><circle cx="303.7" cy="165.8" r="3.3" fill="#e8742a"/><circle cx="313" cy="165" r="3.3" fill="#e8742a"/><circle cx="325.6" cy="163.8" r="3.3" fill="#e8742a"/><ellipse cx="126.2" cy="152.7" rx="3.4" ry="2.1" fill="#19f019"/><ellipse cx="131.6" cy="154.5" rx="3.4" ry="2.1" fill="#19f019"/><ellipse cx="136.7" cy="156.5" rx="3.4" ry="2.1" fill="#19f019"/><ellipse cx="142.5" cy="158.3" rx="3.4" ry="2.1" fill="#19f019"/><ellipse cx="149.8" cy="160" rx="3.4" ry="2.1" fill="#19f019"/><ellipse cx="156.4" cy="161.1" rx="3.4" ry="2.1" fill="#19f019"/><ellipse cx="163" cy="162.2" rx="3.4" ry="2.1" fill="#19f019"/><ellipse cx="168.1" cy="163" rx="3.4" ry="2.1" fill="#19f019"/><ellipse cx="174.6" cy="163.8" rx="3.4" ry="2.1" fill="#19f019"/><ellipse cx="179.7" cy="164.6" rx="3.4" ry="2.1" fill="#19f019"/><ellipse cx="183.4" cy="165.1" rx="3.4" ry="2.1" fill="#19f019"/><ellipse cx="191.4" cy="166.4" rx="3.4" ry="2.1" fill="#19f019"/><ellipse cx="198.2" cy="167.4" rx="3.4" ry="2.1" fill="#19f019"/><ellipse cx="205.5" cy="167.9" rx="3.4" ry="2.1" fill="#19f019"/><ellipse cx="214.9" cy="168.3" rx="3.4" ry="2.1" fill="#19f019"/><ellipse cx="228.7" cy="168.8" rx="3.4" ry="2.1" fill="#19f019"/><ellipse cx="251.5" cy="168.3" rx="3.4" ry="2.1" fill="#19f019"/><ellipse cx="258.7" cy="167.8" rx="3.4" ry="2.1" fill="#19f019"/><ellipse cx="273.7" cy="167.1" rx="3.4" ry="2.1" fill="#19f019"/><ellipse cx="290.9" cy="165.6" rx="3.4" ry="2.1" fill="#19f019"/><ellipse cx="303.7" cy="164.6" rx="3.4" ry="2.1" fill="#19f019"/><ellipse cx="313" cy="163.8" rx="3.4" ry="2.1" fill="#19f019"/><ellipse cx="325.6" cy="162.6" rx="3.4" ry="2.1" fill="#19f019"/>
<line x1="335.1" y1="106.3" x2="341.1" y2="122.6" stroke="#333" stroke-width="0.7"/><polygon points="343.2,128.2 338.7,123.5 343.6,121.7" fill="#000"/>
<line x1="358" y1="117.7" x2="355" y2="129.5" stroke="#333" stroke-width="0.7"/><polygon points="353.5,135.3 352.5,128.8 357.5,130.1" fill="#000"/>
<line x1="373.3" y1="124.7" x2="361.1" y2="133.8" stroke="#333" stroke-width="0.7"/><polygon points="356.3,137.4 359.6,131.7 362.7,135.9" fill="#000"/>
<line x1="388.5" y1="141.3" x2="365.5" y2="140.8" stroke="#333" stroke-width="0.7"/><polygon points="359.5,140.7 365.6,138.2 365.4,143.4" fill="#000"/>
<line x1="170.7" y1="87.1" x2="180.4" y2="110.8" stroke="#333" stroke-width="0.7"/><polygon points="182.7,116.4 178,111.8 182.8,109.9" fill="#000"/>
<line x1="425.2" y1="180.2" x2="416.9" y2="187.1" stroke="#333" stroke-width="0.7"/><polygon points="412.3,190.9 415.3,185.1 418.6,189.1" fill="#000"/>
<line x1="118.3" y1="143.2" x2="120.8" y2="146.6" stroke="#fff" stroke-width="0.8"/><polygon points="123.8,150.6 118.8,148.1 122.8,145.1" fill="#fff"/>
<line x1="238.2" y1="156.5" x2="246" y2="164.7" stroke="#fff" stroke-width="0.8"/><polygon points="249.4,168.3 244.1,166.4 247.8,163" fill="#fff"/>
<line x1="316.3" y1="152.3" x2="322.1" y2="158.1" stroke="#fff" stroke-width="0.8"/><polygon points="325.6,161.6 320.3,159.8 323.8,156.3" fill="#fff"/>
<text x="322.3" y="103.3" font-family="Liberation Serif,serif" font-size="12.4" fill="#000" >Equation (3)</text>
<text x="359.2" y="114.2" font-family="Liberation Serif,serif" font-size="12.4" fill="#000" >Equation (15)</text>
<text x="376.2" y="127.9" font-family="Liberation Serif,serif" font-size="12.4" fill="#000" >Equation (12)</text>
<text x="391.5" y="143.2" font-family="Liberation Serif,serif" font-size="12.4" fill="#000" >Equation (19)</text>
<text x="111.7" y="140.4" font-family="Liberation Serif,serif" font-size="11.3" fill="#fff" >h = 4000 m</text>
<text x="216" y="151.9" font-family="Liberation Serif,serif" font-size="11.3" fill="#fff" >h = 100 m</text>
<text x="286" y="147.4" font-family="Liberation Serif,serif" font-size="11.3" fill="#fff" >h = 10 m</text>
<text x="125.5" y="172.7" font-family="Liberation Serif,serif" font-size="11.2" fill="#fff" >Case 1</text>
<g transform="translate(161.9,74.1) skewX(-15) scale(1.1,1)"><text x="0" y="0" font-family="Liberation Serif,serif" font-size="21" fill="#000" font-style="italic">f</text></g>
<text x="170.5" y="80" font-family="Liberation Serif,serif" font-size="10.5" fill="#000" font-style="italic">w</text>
<g transform="translate(427.4,172.2) skewX(-15) scale(1.1,1)"><text x="0" y="0" font-family="Liberation Serif,serif" font-size="21" fill="#000" font-style="italic">f</text></g>
<text x="435.3" y="179.3" font-family="Liberation Serif,serif" font-size="11" fill="#000" font-style="italic">c</text>
<polyline points="188.7,344.9 482.8,248.6" stroke="#000" stroke-width="1.6" fill="none" stroke-linecap="square"/>
<polyline points="188.7,344.9 30.8,169.3" stroke="#000" stroke-width="1.6" fill="none" stroke-linecap="square"/>
<polyline points="482.8,248.6 500.2,146.2" stroke="#000" stroke-width="1.6" fill="none" stroke-linecap="square"/>
<polyline points="188.7,344.9 184.6,340.3" stroke="#000" stroke-width="1.4" fill="none" stroke-linecap="square"/>
<polyline points="188.7,344.9 195.9,342.5" stroke="#000" stroke-width="1.4" fill="none" stroke-linecap="square"/>
<polyline points="226.5,332.5 224,329.8" stroke="#000" stroke-width="1.2" fill="none" stroke-linecap="square"/>
<polyline points="167.4,321.2 171.7,319.8" stroke="#000" stroke-width="1.2" fill="none" stroke-linecap="square"/>
<polyline points="242.5,327.3 238.3,322.9" stroke="#000" stroke-width="1.4" fill="none" stroke-linecap="square"/>
<polyline points="158.5,311.3 165.6,309.1" stroke="#000" stroke-width="1.4" fill="none" stroke-linecap="square"/>
<polyline points="278.9,315.4 276.3,312.8" stroke="#000" stroke-width="1.2" fill="none" stroke-linecap="square"/>
<polyline points="138.4,289 142.6,287.7" stroke="#000" stroke-width="1.2" fill="none" stroke-linecap="square"/>
<polyline points="294.3,310.3 289.9,306.1" stroke="#000" stroke-width="1.4" fill="none" stroke-linecap="square"/>
<polyline points="130,279.6 137,277.6" stroke="#000" stroke-width="1.4" fill="none" stroke-linecap="square"/>
<polyline points="329.3,298.9 326.6,296.4" stroke="#000" stroke-width="1.2" fill="none" stroke-linecap="square"/>
<polyline points="111.1,258.6 115.2,257.4" stroke="#000" stroke-width="1.2" fill="none" stroke-linecap="square"/>
<polyline points="344.1,294 339.6,289.9" stroke="#000" stroke-width="1.4" fill="none" stroke-linecap="square"/>
<polyline points="103.2,249.7 110,247.8" stroke="#000" stroke-width="1.4" fill="none" stroke-linecap="square"/>
<polyline points="377.8,283 375.1,280.6" stroke="#000" stroke-width="1.2" fill="none" stroke-linecap="square"/>
<polyline points="85.3,229.8 89.3,228.7" stroke="#000" stroke-width="1.2" fill="none" stroke-linecap="square"/>
<polyline points="392,278.3 387.5,274.4" stroke="#000" stroke-width="1.4" fill="none" stroke-linecap="square"/>
<polyline points="77.7,221.5 84.5,219.6" stroke="#000" stroke-width="1.4" fill="none" stroke-linecap="square"/>
<polyline points="424.5,267.7 421.8,265.4" stroke="#000" stroke-width="1.2" fill="none" stroke-linecap="square"/>
<polyline points="60.8,202.6 64.8,201.5" stroke="#000" stroke-width="1.2" fill="none" stroke-linecap="square"/>
<polyline points="438.3,263.2 433.6,259.4" stroke="#000" stroke-width="1.4" fill="none" stroke-linecap="square"/>
<polyline points="53.7,194.7 60.2,193" stroke="#000" stroke-width="1.4" fill="none" stroke-linecap="square"/>
<polyline points="469.6,252.9 466.8,250.7" stroke="#000" stroke-width="1.2" fill="none" stroke-linecap="square"/>
<polyline points="37.6,176.8 41.5,175.8" stroke="#000" stroke-width="1.2" fill="none" stroke-linecap="square"/>
<polyline points="482.8,248.6 478.1,244.9" stroke="#000" stroke-width="1.4" fill="none" stroke-linecap="square"/>
<polyline points="30.8,169.3 37.3,167.6" stroke="#000" stroke-width="1.4" fill="none" stroke-linecap="square"/>
<polyline points="482.8,248.6 478.1,244.9" stroke="#000" stroke-width="1.4" fill="none" stroke-linecap="square"/>
<polyline points="488.4,215.5 483.7,211.8" stroke="#000" stroke-width="1.4" fill="none" stroke-linecap="square"/>
<polyline points="494.2,181.4 489.4,177.8" stroke="#000" stroke-width="1.4" fill="none" stroke-linecap="square"/>
<polyline points="500.2,146.2 495.2,142.7" stroke="#000" stroke-width="1.4" fill="none" stroke-linecap="square"/><text transform="matrix(1.2210,-0.4022,0.8500,0.9719,171,356.4)" font-family="Liberation Serif,serif" font-size="10" fill="#000">10<tspan dy="-4.5" font-size="6">4</tspan></text>
<text transform="matrix(0.8051,0.9015,-1.4116,0.4643,186.6,350)" font-family="Liberation Serif,serif" font-size="10" fill="#000">10<tspan dy="-4.5" font-size="6">4</tspan></text>
<text transform="matrix(1.1975,-0.3755,0.8001,0.9149,141,322.1)" font-family="Liberation Serif,serif" font-size="10" fill="#000">10<tspan dy="-4.5" font-size="6">5</tspan></text>
<text transform="matrix(0.8310,0.8700,-1.3566,0.4462,240.7,332.2)" font-family="Liberation Serif,serif" font-size="10" fill="#000">10<tspan dy="-4.5" font-size="6">5</tspan></text>
<text transform="matrix(1.1746,-0.3512,0.7545,0.8627,112.7,289.8)" font-family="Liberation Serif,serif" font-size="10" fill="#000">10<tspan dy="-4.5" font-size="6">6</tspan></text>
<text transform="matrix(0.8543,0.8403,-1.3048,0.4292,292.7,315.1)" font-family="Liberation Serif,serif" font-size="10" fill="#000">10<tspan dy="-4.5" font-size="6">6</tspan></text>
<text transform="matrix(1.1524,-0.3290,0.7127,0.8149,86,259.3)" font-family="Liberation Serif,serif" font-size="10" fill="#000">10<tspan dy="-4.5" font-size="6">7</tspan></text>
<text transform="matrix(0.8752,0.8121,-1.2558,0.4131,342.8,298.6)" font-family="Liberation Serif,serif" font-size="10" fill="#000">10<tspan dy="-4.5" font-size="6">7</tspan></text>
<text transform="matrix(1.1308,-0.3087,0.6743,0.7710,60.8,230.4)" font-family="Liberation Serif,serif" font-size="10" fill="#000">10<tspan dy="-4.5" font-size="6">8</tspan></text>
<text transform="matrix(0.8941,0.7855,-1.2096,0.3979,391,282.7)" font-family="Liberation Serif,serif" font-size="10" fill="#000">10<tspan dy="-4.5" font-size="6">8</tspan></text>
<text transform="matrix(1.1099,-0.2900,0.6389,0.7305,36.9,203.1)" font-family="Liberation Serif,serif" font-size="10" fill="#000">10<tspan dy="-4.5" font-size="6">9</tspan></text>
<text transform="matrix(0.9110,0.7602,-1.1658,0.3835,437.4,267.5)" font-family="Liberation Serif,serif" font-size="10" fill="#000">10<tspan dy="-4.5" font-size="6">9</tspan></text>
<text transform="matrix(1.0927,-0.2736,0.6041,0.6949,10.1,178.3)" font-family="Liberation Serif,serif" font-size="10" fill="#000">10<tspan dy="-4.5" font-size="6">10</tspan></text>
<text transform="matrix(0.9261,0.7363,-1.1244,0.3699,482.2,252.7)" font-family="Liberation Serif,serif" font-size="10" fill="#000">10<tspan dy="-4.5" font-size="6">10</tspan></text>
<text transform="matrix(0.9887,0.7580,-0.1898,1.1050,491.6,222.5)" font-family="Liberation Serif,serif" font-size="10" fill="#000">0.005</text>
<text transform="matrix(1.0079,0.7436,-0.1955,1.1383,497.4,188.5)" font-family="Liberation Serif,serif" font-size="10" fill="#000">0.010</text>
<text transform="matrix(1.0278,0.7280,-0.2015,1.1731,503.4,153.4)" font-family="Liberation Serif,serif" font-size="10" fill="#000">0.015</text>
<text transform="matrix(1.0875,1.2870,-2.4379,0.6862,52.9,257.1)" font-family="Liberation Serif,serif" font-size="10" fill="#000">R</text>
<text transform="matrix(2.1672,-0.7413,1.4346,1.3371,365.7,324.8)" font-family="Liberation Serif,serif" font-size="10" fill="#000">Re</text>
<text transform="matrix(0.334,-2.114,1.6,1.66,529.4,248.6)" font-family="Liberation Serif,serif" font-size="10" fill="#000" font-style="italic"><tspan font-size="11">f</tspan><tspan font-size="6" dx="1.6" dy="4.6">w,</tspan><tspan font-size="11" dx="-1.2" dy="-4.6"> f</tspan><tspan font-size="6" dx="1.6" dy="4.6">c</tspan></text>
</svg></body></html>
